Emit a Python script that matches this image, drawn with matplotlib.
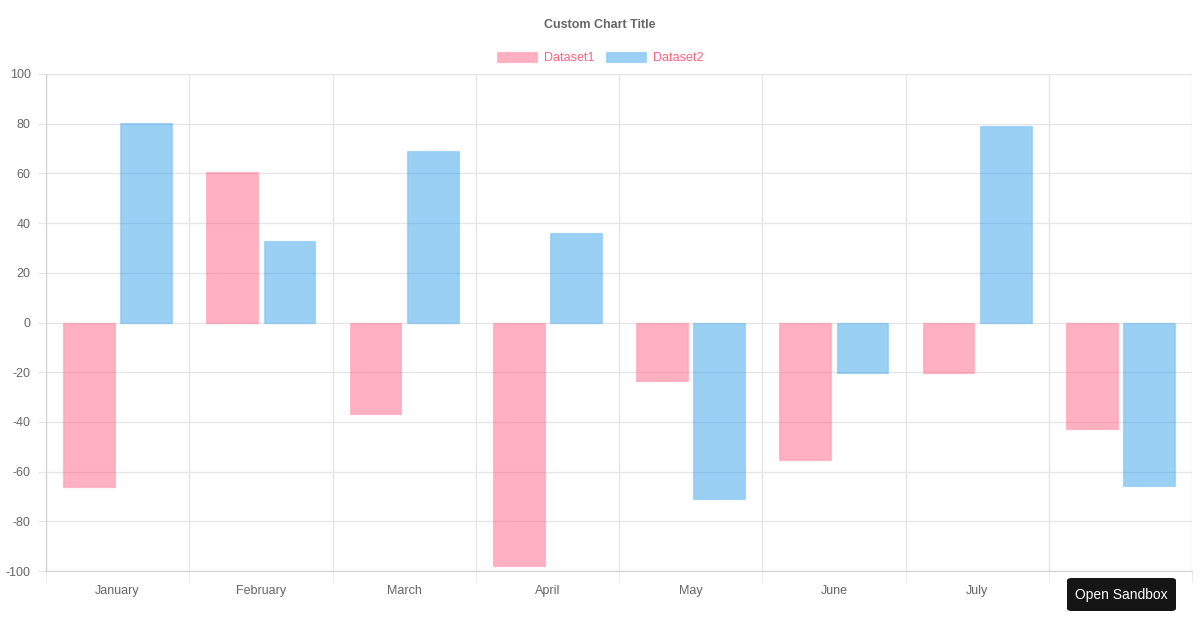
import matplotlib.pyplot as plt
from matplotlib.patches import Patch, FancyBboxPatch
import numpy as np

plt.rcParams['font.family'] = ['Liberation Sans', 'DejaVu Sans']
plt.rcParams['axes.unicode_minus'] = False

months = ["January", "February", "March", "April", "May", "June", "July", "August"]
dataset1 = [-66, 60.5, -37, -98, -23.5, -55.5, -20.5, -43]
dataset2 = [80.3, 32.8, 69, 36, -71, -20.5, 79, -65.8]

pink_fill = (1.0, 99 / 255, 132 / 255, 0.5)
pink_edge = (1.0, 99 / 255, 132 / 255, 0.25)
blue_fill = (54 / 255, 162 / 255, 235 / 255, 0.5)
blue_edge = (54 / 255, 162 / 255, 235 / 255, 0.25)
grid_color = "#e6e6e6"
text_color = "#666666"

fig = plt.figure(figsize=(12, 6.3), dpi=100)
ax = fig.add_axes([46 / 1200, 1 - 571 / 630, (1192 - 46) / 1200, (571 - 74) / 630])

x = np.arange(len(months))
bar_width = 0.36
ax.bar(x - 0.2, dataset1, bar_width, color=pink_fill, edgecolor=pink_edge, linewidth=1, zorder=3)
ax.bar(x + 0.2, dataset2, bar_width, color=blue_fill, edgecolor=blue_edge, linewidth=1, zorder=3)

ax.set_xlim(-0.5, len(months) - 0.5)
ax.set_ylim(-100, 100)
ax.set_yticks(range(-100, 101, 20))
ax.set_xticks(x)
ax.set_xticklabels(months)
ax.set_xticks(np.arange(-0.5, len(months)), minor=True)

ax.grid(True, which="minor", axis="x", color=grid_color, linewidth=1, zorder=0)
ax.grid(True, which="major", axis="y", color=grid_color, linewidth=1, zorder=0)
ax.tick_params(axis="x", which="major", length=0, pad=10, labelsize=9, labelcolor=text_color)
ax.tick_params(axis="x", which="minor", length=8, color=grid_color)
ax.tick_params(axis="y", length=6, color=grid_color, pad=5, labelsize=9, labelcolor=text_color)

for side in ["top", "right"]:
    ax.spines[side].set_visible(False)
for side in ["left", "bottom"]:
    ax.spines[side].set_color("#d0d0d0")

fig.text(0.5, 1 - 25 / 630, "Custom Chart Title", ha="center", va="center",
         fontsize=9, fontweight="bold", color=text_color)

handles = [Patch(facecolor=pink_fill, edgecolor=pink_edge, label="Dataset1"),
           Patch(facecolor=blue_fill, edgecolor=blue_edge, label="Dataset2")]
fig.legend(handles=handles, loc="center", bbox_to_anchor=(0.5, 1 - 58 / 630), ncol=2,
           frameon=False, fontsize=9, labelcolor=(1.0, 99 / 255, 132 / 255),
           handlelength=3.2, handleheight=0.9, handletextpad=0.55, columnspacing=0.95)

# "Open Sandbox" button overlay (covers the August label, as in the original page)
btn = FancyBboxPatch((1067 / 1200, 1 - 611 / 630), 109 / 1200, 33 / 630,
                     boxstyle="round,pad=0,rounding_size=0.004", transform=fig.transFigure,
                     facecolor="#151515", edgecolor="none", zorder=10)
fig.patches.append(btn)
fig.text(1121 / 1200, 1 - 595 / 630, "Open Sandbox", ha="center", va="center",
         fontsize=10, color="white", zorder=11)

fig.savefig("out.png", dpi=100)
